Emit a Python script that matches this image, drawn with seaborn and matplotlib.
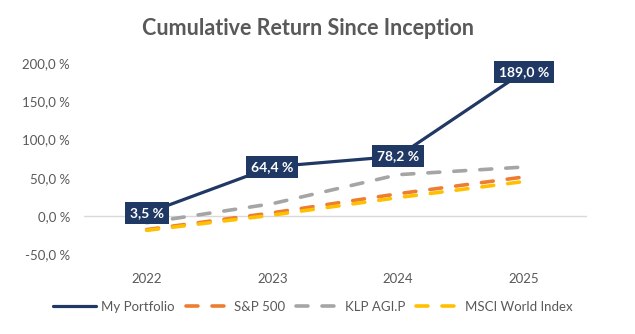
import matplotlib
matplotlib.use("Agg")
import matplotlib.pyplot as plt
import seaborn as sns
import pandas as pd

years = ["2022", "2023", "2024", "2025"]
portfolio = [3.5, 64.4, 78.2, 189.0]
sp500 = [-18, 4, 29, 51]
klp = [-9, 16, 54, 64]
msci = [-19, 1, 24, 45]
series_names = ["My Portfolio", "S&P 500", "KLP AGI.P", "MSCI World Index"]
yticks = [-50, 0, 50, 100, 150, 200]

colors = {"My Portfolio": "#203864", "S&P 500": "#ED7D31",
          "KLP AGI.P": "#A5A5A5", "MSCI World Index": "#FFC000"}

sns.set_theme(style="white")
plt.rcParams["font.family"] = ["Lato", "DejaVu Sans"]

rows = []
for name, vals in zip(series_names, [portfolio, sp500, klp, msci]):
    for i, (y, v) in enumerate(zip(years, vals)):
        rows.append({"x": i, "year": y, "value": v, "series": name})
df = pd.DataFrame(rows)

fig = plt.figure(figsize=(6.35, 3.34), dpi=100)
ax = fig.add_axes([0.132, 0.2395, 0.792, 0.571])

ax.axhline(0, color="#D9D9D9", lw=1, zorder=0)

dash = (3.3, 3.9)
draw_order = ["KLP AGI.P", "S&P 500", "MSCI World Index", "My Portfolio"]
for name in draw_order:
    sub = df[df["series"] == name]
    if name == "My Portfolio":
        sns.lineplot(data=sub, x="x", y="value", ax=ax, color=colors[name],
                     lw=2.3, label=name, zorder=5, solid_capstyle="round")
    else:
        sns.lineplot(data=sub, x="x", y="value", ax=ax, color=colors[name],
                     lw=2.6, label=name, dashes=False, zorder=3)
        ax.lines[-1].set_dashes(dash)
        ax.lines[-1].set_dash_capstyle("round")

for i, v in enumerate(portfolio):
    txt = f"{v:.1f} %".replace(".", ",")
    ax.annotate(txt, (i, v), ha="center", va="center", color="white",
                fontsize=10, fontweight="bold", zorder=10,
                bbox=dict(boxstyle="square,pad=0.35", fc="#203864", ec="none"))

ax.set_xlim(-0.5, 3.5)
ax.set_ylim(-50, 200)
ax.set_xticks(range(len(years)))
ax.set_xticklabels(years)
ax.set_yticks(yticks)
ax.set_yticklabels([f"{t:.1f} %".replace(".", ",") for t in yticks])
ax.tick_params(axis="both", length=0, labelsize=9.5, labelcolor="#595959")
ax.tick_params(axis="x", pad=14)
ax.tick_params(axis="y", pad=10)
ax.set_xlabel("")
ax.set_ylabel("")
for s in ax.spines.values():
    s.set_visible(False)

handles, labels = ax.get_legend_handles_labels()
order = [labels.index(n) for n in series_names]
ax.legend([handles[i] for i in order], [labels[i] for i in order],
          loc="center", bbox_to_anchor=(0.492, 0.081),
          bbox_transform=fig.transFigure, ncol=4, frameon=False,
          fontsize=9.5, labelcolor="#595959", handlelength=3.3,
          handletextpad=0.4, columnspacing=0.8)

fig.text(0.485, 0.915, "Cumulative Return Since Inception", ha="center",
         va="center", fontsize=15.5, fontweight="bold", color="#595959")

fig.savefig("out.png", dpi=100)
